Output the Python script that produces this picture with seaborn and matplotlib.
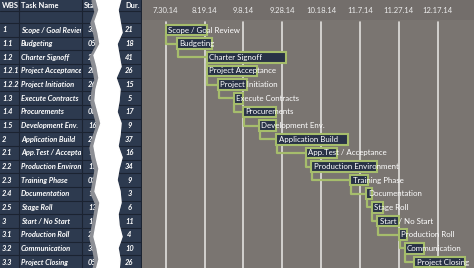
#!/usr/bin/env python
'''
Project gantt chart with a task table on the left.
'''

import numpy as np
import pandas as pd
import seaborn as sns
from matplotlib import pyplot as plt
from matplotlib.patches import Rectangle, Polygon

# data
wbs = ["1", "1.1", "1.2", "1.2.1", "1.2.2", "1.3", "1.4", "1.5", "2",
       "2.1", "2.2", "2.3", "2.4", "2.5", "3", "3.1", "3.2", "3.3"]
tasks = ["Scope / Goal Review", "Budgeting", "Charter Signoff", "Project Acceptance",
         "Project Initiation", "Execute Contracts", "Procurements", "Development Env.",
         "Application Build", "App.Test / Acceptance", "Production Environment",
         "Training Phase", "Documentation", "Stage Roll", "Start / No Start",
         "Production Roll", "Communication", "Project Closing"]
starts = ["2014-07-30", "2014-08-05", "2014-08-20", "2014-08-20", "2014-08-26",
          "2014-09-03", "2014-09-08", "2014-09-16", "2014-09-25", "2014-10-10",
          "2014-10-13", "2014-11-02", "2014-11-10", "2014-11-13", "2014-11-16",
          "2014-11-27", "2014-11-30", "2014-12-05"]
durations = [21, 18, 41, 26, 15, 5, 17, 9, 37, 16, 34, 9, 3, 6, 11, 4, 10, 26]
tick_dates = ["2014-07-30", "2014-08-19", "2014-09-08", "2014-09-28",
              "2014-10-18", "2014-11-07", "2014-11-27", "2014-12-17"]
tick_labels = ["7.30.14", "8.19.14", "9.8.14", "9.28.14",
               "10.18.14", "11.7.14", "11.27.14", "12.17.14"]

base = pd.Timestamp("2014-07-30")
df = pd.DataFrame({"wbs": wbs, "task": tasks, "dur": durations,
                   "start": pd.to_datetime(starts)})
df["day"] = (df["start"] - base).dt.days
ticks = [(pd.Timestamp(d) - base).days for d in tick_dates]

GRAY = "#7a7571"
HEAD = "#736e6b"
NAVY = "#2d3a4f"
BAR = "#283246"
GREEN = "#a6bd6c"
LINE = "#1b2331"

sns.set_style("white")
plt.rcParams["font.family"] = ["Lato", "DejaVu Sans"]

W, H = 474, 268
fig = plt.figure(figsize=(W / 100, H / 100), dpi=100)
fig.patch.set_facecolor(GRAY)

row0, step = 30, 13.65          # pixel centre of first row, row height
ybot = (H - row0) / step

# ---- table on the left ----
tx = fig.add_axes([0, 0, 142 / W, 1])
tx.set_xlim(0, 142)
tx.set_ylim(ybot, -row0 / step)
tx.axis("off")
tx.add_patch(Rectangle((0, -5), 142, 30, color=NAVY, zorder=0))
for b in np.arange(-0.5, len(df), 1.0):
    tx.axhline(b, color=LINE, lw=0.8, zorder=1)
tx.axhline(-1.38, color=LINE, lw=0.8, zorder=1)
for xv in [19, 82, 141]:
    tx.axvline(xv, color=LINE, lw=0.8, zorder=1)

hy = (6 - row0) / step
kw = dict(color="white", fontsize=5.4, fontweight="bold", va="center", zorder=3)
tx.text(1.5, hy, "WBS", **kw)
tx.text(21, hy, "Task Name", **kw)
tx.text(84, hy, "Start", **kw)
tx.text(125, hy, "Dur.", **kw)

clip = Rectangle((19, -3), 62, 25, transform=tx.transData)
kw = dict(color="white", fontsize=5.4, fontweight="bold", fontstyle="italic",
          va="center", zorder=3)
for i, r in df.iterrows():
    tx.text(2, i, r["wbs"], **kw)
    t = tx.text(21, i, r["task"], clip_on=True, **kw)
    t.set_clip_path(clip)
    tx.text(88, i, r["start"].strftime("%d.%m.%y"), **kw)
    tx.text(129.5, i, str(r["dur"]), ha="center", **kw)

# torn paper strip over the start column
ys = np.linspace(-2.3, ybot + 0.2, 25)
left_j = [0, 3, -1, 2, 4, -2, 1, 3, 0, -1, 2, 5, 1, -2, 0, 3, 1, -1, 4, 2, 0, -2, 1, 3, 0]
right_j = [2, -1, 1, 3, -2, 0, 2, -3, 1, 0, -2, 2, 1, -1, 3, 0, -2, 1, 2, -1, 0, 3, -1, 1, 0]
lx = [96 + v for v in left_j]
rx = [119 + v for v in right_j]
shadow = list(zip([x - 4 for x in lx], ys + 0.15)) + list(zip(rx[::-1], ys[::-1]))
tx.add_patch(Polygon(shadow, closed=True, color="#8d8f95", zorder=4))
paper = list(zip(lx, ys)) + list(zip(rx[::-1], ys[::-1]))
tx.add_patch(Polygon(paper, closed=True, color="white", zorder=5))

# ---- gantt area ----
fig.add_artist(Rectangle((142 / W, 1 - 20 / H), 1, 20 / H,
                         transform=fig.transFigure, color=HEAD, zorder=0))
ax = fig.add_axes([142 / W, 0, 1 - 142 / W, 1 - 20 / H])
ax.set_facecolor(GRAY)

sns.barplot(data=df, x="dur", y="task", orient="h", color=BAR, saturation=1,
            edgecolor=GREEN, linewidth=1.5, width=0.78, errorbar=None, ax=ax)
for p, s in zip(ax.patches, df["day"]):
    p.set_x(s)
    p.set_zorder(2)

# connectors between consecutive tasks
for i in range(len(df) - 1):
    s0, s1 = df["day"][i], df["day"][i + 1]
    ax.plot([s0 + 0.4, s0 + 0.4, s1], [i + 0.39, i + 1, i + 1],
            color=GREEN, lw=1.6, zorder=1.5, solid_capstyle="butt")

for i, r in df.iterrows():
    ax.text(r["day"] + 1.2, i, r["task"], color="white", fontsize=5.7,
            va="center", ha="left", zorder=3)

for t in ticks:
    ax.axvline(t, ymin=0, ymax=0.99, color="#e2e0de", lw=1.2, zorder=0.5)

px_day = (437.7 - 165.7) / 140
ax.set_xlim(-(165.7 - 142) / px_day, (W - 165.7) / px_day)
ax.set_ylim(ybot, -(row0 - 20) / step)
ax.xaxis.tick_top()
ax.set_xticks(ticks)
ax.set_xticklabels(tick_labels, color="#ececec", fontsize=5.5)
ax.tick_params(axis="x", length=0, pad=4.5)
ax.set_yticks([])
ax.set_xlabel("")
ax.set_ylabel("")
for s in ax.spines.values():
    s.set_visible(False)

plt.savefig("out.png", dpi=100, facecolor=fig.get_facecolor())
